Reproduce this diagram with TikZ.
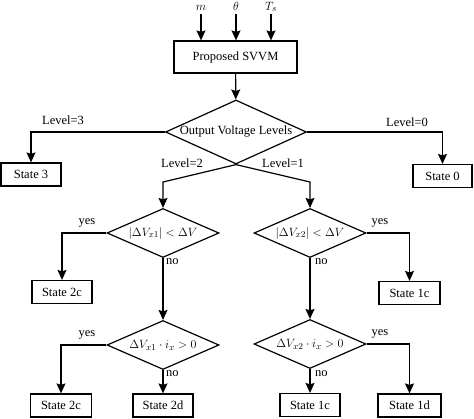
\documentclass[tikz,border=0pt]{standalone}
\usepackage{fontspec}
\setmainfont{Liberation Serif}
\usetikzlibrary{shapes.geometric,arrows.meta}
\begin{document}
\begin{tikzpicture}[x=1pt,y=-1pt,
  every node/.style={font=\fontsize{12.5}{15}\selectfont},
  box/.style={draw,line width=1.2pt,minimum width=60pt,minimum height=23pt,inner sep=0pt},
  dec/.style={draw,diamond,line width=1.2pt,inner sep=0pt,aspect=2.2},
  line/.style={line width=1.2pt},
  arr/.style={line,-{Stealth[length=10pt,width=9pt,inset=1.5pt]}},
  lab/.style={inner sep=0pt}]
\useasboundingbox (0,0) rectangle (474,418);
% inputs
\node[lab,anchor=base] (m) at (201,10) {$m$};
\node[lab,anchor=base] (th) at (236,10) {$\theta$};
\node[lab,anchor=base] (ts) at (271,10) {$T_s$};
\node[box,minimum width=123pt,minimum height=32pt] (svvm) at (235.5,57) {Proposed SVVM};
\coordinate (ma) at (201,14);
\coordinate (tha) at (236,14);
\coordinate (tsa) at (271,14);
\draw[arr] (ma) -- (ma |- svvm.north);
\draw[arr] (tha) -- (tha |- svvm.north);
\draw[arr] (tsa) -- (tsa |- svvm.north);
% main decision
\node[dec,minimum width=141pt,minimum height=64pt] (ovl) at (236,132) {Output Voltage Levels};
\draw[arr] (svvm) -- (ovl);
\node[box] (s3) at (31,174.5) {State 3};
\node[box,minimum width=59pt] (s0) at (442.5,176) {State 0};
\draw[arr] (ovl.west) -| (s3.north);
\draw[arr] (ovl.east) -| (s0.north);
\node[lab] (l3) at (63,120) {Level=3};
\node[lab] (l0) at (407,122) {Level=0};
\node[lab] (l2) at (182,163) {Level=2};
\node[lab] (l1) at (283,163) {Level=1};
% second row
\node[dec,minimum width=112pt,minimum height=49pt] (d1) at (163,233) {$|\Delta V_{x1}| < \Delta V$};
\node[dec,minimum width=112pt,minimum height=49pt] (d2) at (310,233) {$|\Delta V_{x2}| < \Delta V$};
\coordinate (cl) at (163,182);
\coordinate (cr) at (310,182);
\draw[arr] (ovl.south) -- (cl) -- (d1.north);
\draw[arr] (ovl.south) -- (cr) -- (d2.north);
\node[box] (s2ca) at (62,292) {State 2c};
\node[box,minimum width=61pt] (s1ca) at (409.5,293) {State 1c};
\draw[arr] (d1.west) -| (s2ca.north);
\draw[arr] (d2.east) -| (s1ca.north);
\node[lab] (y1) at (87,223) {yes};
\node[lab] (y2) at (380,223) {yes};
\node[lab,anchor=west] (n1) at (166,262) {no};
\node[lab,anchor=west] (n2) at (315,262) {no};
% third row
\node[dec,minimum width=112pt,minimum height=49pt] (d3) at (163,345) {$\Delta V_{x1}\cdot i_x > 0$};
\node[dec,minimum width=112pt,minimum height=49pt] (d4) at (310,344) {$\Delta V_{x2}\cdot i_x > 0$};
\draw[arr] (d1.south) -- (d3.north);
\draw[arr] (d2.south) -- (d4.north);
\node[box,minimum width=61pt] (s2cb) at (61,405.5) {State 2c};
\node[box] (s2d) at (163,405.5) {State 2d};
\node[box] (s1cb) at (310,405) {State 1c};
\node[box,minimum width=63pt] (s1d) at (409.5,405.5) {State 1d};
\draw[arr] (d3.west) -| (s2cb.north);
\draw[arr] (d3.south) -- (s2d.north);
\draw[arr] (d4.south) -- (s1cb.north);
\draw[arr] (d4.east) -| (s1d.north);
\node[lab] (y3) at (87,335) {yes};
\node[lab] (y4) at (380,334) {yes};
\node[lab,anchor=west] (n3) at (166,374) {no};
\node[lab,anchor=west] (n4) at (315,374) {no};
\end{tikzpicture}
\end{document}
